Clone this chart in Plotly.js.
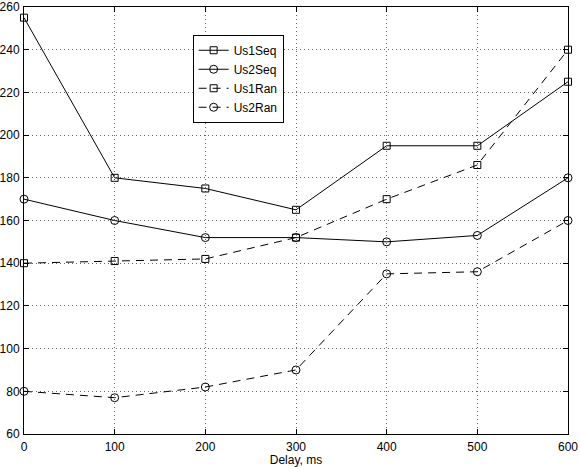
<!DOCTYPE html>
<html><head><meta charset="utf-8">
<script src="https://cdn.plot.ly/plotly-3.0.1.min.js"></script>
<style>body{margin:0;background:#fff}#c{width:580px;height:467px}</style>
</head><body><div id="c"></div>
<script>
var delays = [0, 100, 200, 300, 400, 500, 600];
var us1Seq = [255, 180, 175, 165, 195, 195, 225];
var us2Seq = [170, 160, 152, 152, 150, 153, 180];
var us1Ran = [140, 141, 142, 152, 170, 186, 240];
var us2Ran = [80, 77, 82, 90, 135, 136, 160];
var xTicks = [0, 100, 200, 300, 400, 500, 600];
var yTicks = [60, 80, 100, 120, 140, 160, 180, 200, 220, 240, 260];
var names = ['Us1Seq', 'Us2Seq', 'Us1Ran', 'Us2Ran'];
var series = [us1Seq, us2Seq, us1Ran, us2Ran];
var symbols = ['square-open', 'circle-open', 'square-open', 'circle-open'];
var dashes = ['solid', 'solid', '8px,6px', '8px,6px'];
var traces = series.map(function (s, i) {
  return {
    x: delays, y: s, name: names[i], type: 'scatter', mode: 'lines+markers',
    cliponaxis: false,
    line: {color: '#000', width: 1, dash: dashes[i]},
    marker: {symbol: symbols[i], size: i % 2 ? 8 : 7, color: '#000', line: {width: 1, color: '#000'}}
  };
});
var ax = {
  showline: true, mirror: 'ticks', linecolor: '#000', linewidth: 1,
  ticks: 'inside', ticklen: 5, tickcolor: '#000',
  showgrid: true, gridcolor: '#666', griddash: '1px,3px', gridwidth: 1,
  zeroline: false, tickfont: {family: 'Liberation Sans, Arial', size: 12, color: '#000'}
};
var layout = {
  width: 580, height: 467,
  margin: {l: 24, r: 12, t: 7, b: 33},
  paper_bgcolor: '#fff', plot_bgcolor: '#fff',
  font: {family: 'Liberation Sans, Arial', size: 12, color: '#000'},
  xaxis: Object.assign({}, ax, {range: [0, 600], tickmode: 'array', tickvals: xTicks, ticklabelstandoff: 2,
    title: {text: 'Delay, ms', standoff: 0, font: {size: 12}}}),
  yaxis: Object.assign({}, ax, {range: [60, 260], tickmode: 'array', tickvals: yTicks, ticklabelstandoff: 1,
    automargin: false}),
  showlegend: true,
  legend: {x: 0.31, y: 0.935, xanchor: 'left', yanchor: 'top', bgcolor: '#fff',
    bordercolor: '#000', borderwidth: 1, font: {size: 12},
    tracegroupgap: 0, itemwidth: 30}
};
Plotly.newPlot('c', traces, layout, {staticPlot: true});
</script></body></html>
